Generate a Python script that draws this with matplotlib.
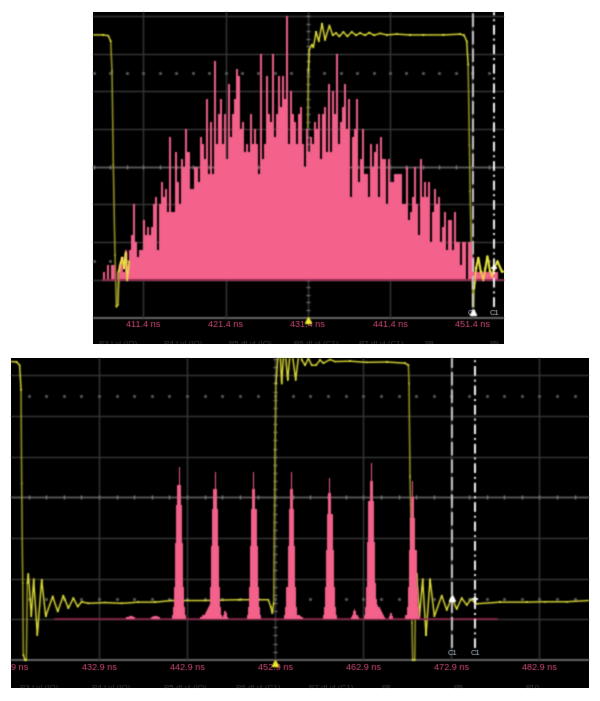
import matplotlib
matplotlib.use("Agg")
import matplotlib.pyplot as plt
import numpy as np

plt.rcParams['font.family'] = ['Liberation Sans', 'DejaVu Sans']

# top capture: histogram counts per bin, 1 count = 0.2 div
top_start = 406.53
top_bin = 0.2438
top_counts = [1, 0, 2, 0, 2, 2, 0, 1, 2, 3, 1, 4, 2, 4, 6, 10, 5, 3, 4, 4, 8, 6, 7, 6, 7, 10, 11, 4, 10, 13, 11, 12, 9,
              19, 9, 9, 17, 13, 10, 16, 15, 20, 17, 12, 12, 15, 15, 13,
              19, 18, 16, 24, 14, 21, 14, 29, 18, 22, 24, 18, 22, 16, 26, 19, 22, 24, 28, 27, 20, 21, 17, 18, 17, 22,
              18, 20, 18, 14, 30, 16, 18, 27, 22, 21, 30, 19, 22, 27, 23, 27, 24, 35, 18, 25, 22, 21, 18, 22,
              23, 18, 15, 20, 17, 19, 18, 21, 20, 22, 16, 22, 23, 17, 26, 17, 25, 22, 30, 18, 21, 23, 26, 20, 24, 11,
              19, 20, 24, 13, 16, 20, 14, 14, 11, 18, 15, 17, 18, 11, 19, 16, 16, 10, 16, 13, 13, 14, 14, 14,
              14, 10, 10, 15, 8, 9, 11, 15, 10, 6, 16, 11, 13, 11, 13, 5, 9, 12, 10, 11, 5, 7, 9, 4, 8, 8, 4, 9, 5, 5,
              2, 5, 5, 0, 5, 5, 3, 1, 1, 1, 1, 1, 1, 1, 1, 1, 1, 1, 1, 0]
top_ticks = [411.4, 421.4, 431.4, 441.4, 451.4]
top_cursors = [451.47, 454.06]

# top capture: yellow trace, ns and div, the part hidden behind the bars is left out
top_fall_x = [405.24, 406.53, 407.14, 407.43, 407.59, 407.75, 407.95, 408.12, 408.28, 408.44, 408.64, 408.85,
              409.05, 409.25, 409.45, 409.7]
top_fall_y = [6.5, 6.5, 6.48, 6.33, 5.53, 3.05, 0.66, -0.71, -0.66, 0.22, 0.44, 0.58,
              0.31, 0.71, 0.0, 0.49]
top_pulse_x = [431.39, 431.47, 431.59, 431.88, 432.08, 432.41, 432.73, 433.14,
               433.5, 434.03, 434.43, 434.84, 435.24, 435.73, 436.22, 436.74, 437.27, 437.76, 438.37, 438.89,
               439.46, 440.19, 441.0, 442.22, 443.84, 445.46, 447.9, 449.92, 450.41, 450.73, 450.9, 451.06,
               451.14, 451.3, 451.47, 451.55, 451.63, 451.87, 452.15, 452.44, 452.76, 453.0, 453.25, 453.57,
               453.82, 454.06, 454.47, 455.0, 455.3]
top_pulse_y = [4.03, 5.53, 6.11, 6.24, 6.17, 6.58, 6.33, 6.8,
               6.37, 6.75, 6.49, 6.55, 6.46, 6.58, 6.46, 6.58, 6.49, 6.55, 6.49, 6.56,
               6.49, 6.54, 6.5, 6.52, 6.5, 6.5, 6.5, 6.52, 6.49, 6.33, 5.71, 3.58,
               2.35, 0.66, -0.31, -0.71, -0.22, 0.31, 0.58, 0.22, 0.0, 0.31, 0.62, 0.22,
               0.09, 0.31, 0.49, 0.22, 0.22]

# bottom capture: bursts of the histogram, start ns and heights in div per 0.125 ns bin
low_bin = 0.125
low_range = [427.9, 478.1]
low_starts = [436.0, 438.8, 441.18, 444.39, 449.66, 453.93, 458.29, 461.5, 462.99, 465.8, 467.69]
low_bursts = [[0.05, 0.05, 0.09, 0.09, 0.09, 0.09, 0.05, 0.05],
              [0.05, 0.05, 0.09, 0.09, 0.09, 0.09, 0.05, 0.05],
              [0.1, 0.3, 0.8, 1.87, 2.8, 3.3, 3.74, 3.3, 2.8, 1.87, 0.8, 0.3, 0.1],
              [0.05, 0.05, 0.1, 0.1, 0.15, 0.2, 0.25, 0.3, 0.35, 0.8, 1.8, 2.7, 3.2, 3.63, 3.2, 2.7, 1.8, 0.8, 0.3,
               0.1, 0.05, 0.1, 0.2, 0.15, 0.05],
              [0.1, 0.3, 0.8, 1.8, 2.7, 3.2, 3.63, 3.2, 2.7, 1.8, 0.8, 0.3, 0.1],
              [0.1, 0.3, 0.8, 1.8, 2.7, 3.2, 3.63, 3.2, 2.7, 1.8, 0.8, 0.3, 0.1, 0.1, 0.08, 0.05, 0.05],
              [0.1, 0.3, 0.8, 1.7, 2.6, 3.1, 3.47, 3.1, 2.6, 1.7, 0.8, 0.3, 0.1],
              [0.05, 0.1, 0.2, 0.25, 0.2, 0.1, 0.05],
              [0.1, 0.3, 0.8, 1.9, 2.9, 3.4, 3.84, 3.4, 2.9, 1.9, 0.9, 0.5, 0.35, 0.3, 0.25, 0.2, 0.15, 0.1, 0.05],
              [0.08, 0.15, 0.15, 0.08],
              [0.1, 0.3, 0.8, 1.7, 2.5, 3.0, 3.39, 3.0, 2.5, 1.7, 0.8, 0.3, 0.1]]
low_ticks = [432.9, 442.9, 452.9, 462.9, 472.9, 482.9]
low_cursors = [473.0, 475.6]

# bottom capture: yellow trace
low_trace_x = [422.91, 423.55, 423.89, 424.05, 424.12, 424.24, 424.31, 424.5, 424.65, 424.77, 424.88, 425.22,
               425.48, 425.9, 426.39, 426.85, 427.64, 428.21, 428.85, 429.42, 429.99, 430.48, 430.93, 431.69,
               433.58, 435.47, 437.36, 439.26, 441.15, 444.93, 448.72, 452.12, 452.39, 452.58, 452.73, 452.88,
               452.99, 453.18, 453.41, 453.63, 453.94, 454.32, 454.69, 455.22, 455.68, 455.91, 456.29, 456.67,
               457.04, 457.54, 457.99, 458.37, 459.13, 459.69, 461.4, 463.29, 465.56, 467.64, 468.02, 468.09,
               468.2, 468.28, 468.43, 468.5, 468.74, 468.85, 468.96, 469.27, 469.64, 470.02, 470.48, 470.97,
               471.8, 472.37, 472.94, 473.5, 474.07, 474.64, 475.13, 475.77, 478.42, 481.45, 483.53, 485.99, 488.52]
low_trace_y = [6.34, 6.33, 6.25, 5.64, 3.34, 0.89, -0.88, -1.0, -1.0, 0.89, 1.11, 0.07,
               0.98, -0.39, 0.97, 0.07, 0.56, 0.19, 0.58, 0.27, 0.52, 0.31, 0.43, 0.39,
               0.41, 0.39, 0.42, 0.42, 0.46, 0.46, 0.48, 0.48, 0.31, 0.15, 0.39, 4.16,
               5.8, 6.42, 6.79, 5.8, 6.79, 5.89, 6.79, 5.89, 6.7, 6.38, 6.25, 6.42,
               6.25, 6.25, 6.38, 6.3, 6.39, 6.34, 6.35, 6.32, 6.33, 6.3, 6.25, 5.8,
               3.51, 2.81, -0.1, -1.0, -1.0, 1.05, 1.11, 0.07, 0.98, -0.39, 0.98, 0.07,
               0.58, 0.23, 0.52, 0.25, 0.52, 0.35, 0.49, 0.38, 0.42, 0.42, 0.43, 0.43, 0.46]

# strip under the captures, cut off by the crop
top_params = ['P3 Lvl (IO)', 'P4 Lvl (IO)', 'P5 dLvl (IO)', 'P6 dLvl (C1)', 'P7 dLvl (C1)', 'P8', 'P9']
low_params = ['P3 Lvl (IO)', 'P4 Lvl (IO)', 'P5 dLvl (IO)', 'P6 dLvl (C1)', 'P7 dLvl (C1)', 'P8', 'P9', 'P10']

PINK = '#f4628c'
YELLOW = '#e8e63c'
LABEL = '#d04a78'
W, H = 600, 701


def blur(sigma):
    # soft look of the screenshot, straight alpha is kept right by weighting with alpha
    radius = 3
    kernel = np.exp(-0.5 * (np.arange(-radius, radius + 1) / sigma) ** 2)
    kernel /= kernel.sum()

    def smear(arr):
        out = np.zeros_like(arr)
        for k, w in zip(range(-radius, radius + 1), kernel):
            out += w * np.roll(arr, k, axis=0)
        res = np.zeros_like(arr)
        for k, w in zip(range(-radius, radius + 1), kernel):
            res += w * np.roll(out, k, axis=1)
        return res

    def process(image, dpi):
        img = np.pad(image, ((radius, radius), (radius, radius), (0, 0)))
        alpha = img[:, :, 3:4]
        a = smear(alpha)
        rgb = smear(img[:, :, :3] * alpha) / np.maximum(a, 1e-4)
        return np.clip(np.dstack([rgb, a]), 0, 1), -radius, -radius

    return process


def make_axes(left, top, right, bottom):
    ax = plt.gcf().add_axes([left / W, 1 - bottom / H, (right - left) / W, (bottom - top) / H])
    ax.set_facecolor('black')
    for s in ax.spines.values():
        s.set_visible(False)
    ax.set_xticks([])
    ax.set_yticks([])
    return ax


def scope_grid(ax, ticks, centre, ymax, xmin, xmax):
    # div lines, the centre ones carry small marks
    for d in range(0, 8):
        ax.axhline(d, color='#3a3a3a', lw=1, zorder=1)
    ax.axhline(3, color='#5c5c5c', lw=1, zorder=1)
    ax.axhline(-1, color='#6a6a6a', lw=1.4, zorder=1)
    for t in ticks:
        ax.plot([t, t], [-1, ymax], color='#3a3a3a', lw=1, zorder=1)
    dots = np.arange(ticks[0] - 10, xmax, 2.0)
    dots = dots[dots > xmin]
    ax.plot(dots, np.full_like(dots, 3), ls='', marker='|', ms=3, color='#7c7c7c', zorder=1)
    for lev in (0.5, 5.5):
        ax.plot(dots, np.full_like(dots, lev), ls='', marker='s', ms=1.1, color='#5a5a5a', zorder=1)
    marks = np.arange(-0.8, ymax, 0.2)
    ax.plot(np.full_like(marks, centre), marks, ls='', marker='_', ms=3, color='#6e6e6e', zorder=1)


def draw_trace(ax, xs, ys, zorder=2):
    # steep edges look dim on the scope, flat parts bright
    bright_x, bright_y, dim_x, dim_y = [], [], [], []
    for i in range(len(xs) - 1):
        slope = abs(ys[i + 1] - ys[i]) / max(xs[i + 1] - xs[i], 0.01)
        if slope > 5:
            dim_x += [xs[i], xs[i + 1], np.nan]
            dim_y += [ys[i], ys[i + 1], np.nan]
        else:
            bright_x += [xs[i], xs[i + 1], np.nan]
            bright_y += [ys[i], ys[i + 1], np.nan]
    ax.plot(dim_x, dim_y, color='#9c9c28', lw=1.1, zorder=zorder)
    ax.plot(bright_x, bright_y, color=YELLOW, lw=1.0, zorder=zorder)


def draw_cursors(ax, xs, ybot, ytop, ylab):
    ax.plot([xs[0], xs[0]], [ybot, ytop], color='#c8c8c8', lw=1.4, ls=(0, (7, 2)), zorder=5)
    ax.plot([xs[1], xs[1]], [ybot, ytop], color='white', lw=1.4, ls=(0, (5, 2, 1, 2)), zorder=5)
    for x in xs:
        ax.text(x, ylab, 'C1', color='#b4c4d8', fontsize=5.5, ha='center', va='center', zorder=6)


def soften(ax):
    for art in ax.get_children():
        if isinstance(art, matplotlib.text.Text):
            if art.get_text():
                art.set_agg_filter(blur(0.45))
        elif art is not ax.patch and not isinstance(art, matplotlib.spines.Spine):
            art.set_agg_filter(blur(0.7))


fig = plt.figure(figsize=(6.0, 7.01), dpi=100, facecolor='white')

# --- top capture
ax1 = make_axes(92.7, 12.3, 504.3, 344.3)
ax1.set_xlim(405.24, 455.3)
ax1.set_ylim(-1.71, 7.1)
scope_grid(ax1, top_ticks, 431.4, 7.1, 405.24, 455.3)
draw_trace(ax1, top_fall_x, top_fall_y)
draw_trace(ax1, top_pulse_x, top_pulse_y)
edges = top_start + top_bin * np.arange(len(top_counts) + 1)
ax1.stairs(np.array(top_counts) * 0.2, edges, fill=True, color=PINK, lw=0, zorder=3)
ax1.plot([top_start, 455.3], [0, 0], color='#9c2a55', lw=1.2, zorder=4)
# ringing sits over the low bins on both sides
draw_trace(ax1, top_fall_x[8:], top_fall_y[8:], zorder=4)
draw_trace(ax1, top_pulse_x[36:], top_pulse_y[36:], zorder=4)
draw_cursors(ax1, top_cursors, -0.73, 7.1, -0.88)
ax1.plot([451.47], [-0.86], marker='^', ms=5, color='white', zorder=7, clip_on=False)
ax1.plot([454.06], [0.31], marker='P', ms=5, color='white', mew=0, zorder=7)
for t in top_ticks:
    ax1.text(t, -1.18, f'{t} ns', color=LABEL, fontsize=6.6, ha='center', va='center', zorder=6)
ax1.plot([431.4], [-1.07], marker='^', ms=4, color='#f2ee30', zorder=7)
for i, name in enumerate(top_params):
    ax1.text(405.24 + 7.9 * i + 0.8, -1.72, name, color='#3c3c3c', fontsize=5.8, ha='left', va='center',
             zorder=6, clip_on=True)
soften(ax1)

# --- bottom capture
ax2 = make_axes(11, 358.3, 589, 688.3)
ax2.set_xlim(422.91, 488.52)
ax2.set_ylim(-1.70, 6.42)
scope_grid(ax2, low_ticks, 452.9, 6.42, 422.91, 488.52)
draw_trace(ax2, low_trace_x, low_trace_y)
for start, vals in zip(low_starts, low_bursts):
    e = start + low_bin * np.arange(len(vals) + 1)
    ax2.stairs(vals, e, fill=True, color=PINK, lw=0, zorder=3)
ax2.plot(low_range, [0, 0], color='#8e2148', lw=1.2, zorder=2.5)
draw_cursors(ax2, low_cursors, -0.7, 6.42, -0.85)
ax2.plot([473.0], [0.52], marker='^', ms=5, color='white', zorder=7)
ax2.plot([475.6], [0.49], marker='P', ms=5, color='white', mew=0, zorder=7)
for t in low_ticks:
    ax2.text(t, -1.18, f'{t} ns', color=LABEL, fontsize=6.6, ha='center', va='center', zorder=6)
ax2.text(422.91, -1.18, '9 ns', color=LABEL, fontsize=6.6, ha='left', va='center', zorder=6)
ax2.plot([452.9], [-1.07], marker='^', ms=4, color='#f2ee30', zorder=7)
for i, name in enumerate(low_params):
    ax2.text(423.9 + 8.2 * i, -1.71, name, color='#3c3c3c', fontsize=5.8, ha='left', va='center',
             zorder=6, clip_on=True)
soften(ax2)

fig.savefig('out.png', dpi=100, facecolor='white')
